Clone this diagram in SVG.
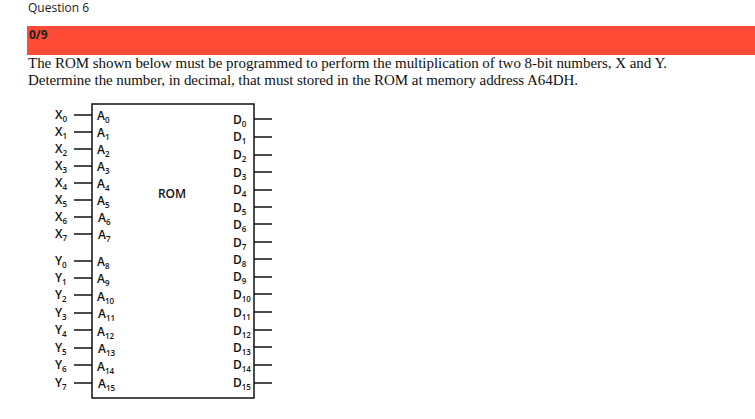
<svg xmlns="http://www.w3.org/2000/svg" width="755" height="419" viewBox="0 0 755 419">
<style>
.h{font-family:"Open Sans","Liberation Sans",sans-serif;font-size:12px;fill:#222}
.q{font-family:"Liberation Serif",serif;font-size:15px;fill:#111}
.l{font-family:"Open Sans","Liberation Sans",sans-serif;font-size:12px;font-weight:600;fill:#111}
.s{font-size:8px}
.w{stroke:#111;stroke-width:1.5}
</style>
<rect width="755" height="419" fill="#fff"/>
<text class="h" x="28" y="12">Question 6</text>
<rect x="27" y="26" width="728" height="29" fill="#ff4a36"/>
<text class="h" x="29" y="39" font-weight="bold" font-size="11">0/9</text>
<text class="q" x="28" y="68" textLength="639">The ROM shown below must be programmed to perform the multiplication of two 8-bit numbers, X and Y.</text>
<text class="q" x="28" y="85" textLength="550">Determine the number, in decimal, that must stored in the ROM at memory address A64DH.</text>
<g id="rom">
<rect x="92" y="104" width="162" height="294" fill="none" stroke="#111" stroke-width="1.5"/>
<text class="l" x="172" y="198" text-anchor="middle" font-size="15" font-weight="bold">ROM</text>
</g>
<g id="connectors" class="w">
<path d="M74 115H92M74 132H92M74 149H92M74 166H92M74 183H92M74 200H92M74 217H92M74 234H92M74 261H92M74 278H92M74 295H92M74 313H92M74 330H92M74 348H92M74 365H92M74 383H92"/>
<path d="M254 119H272M254 137H272M254 155H272M254 172H272M254 190H272M254 207H272M254 224H272M254 242H272M254 259H272M254 277H272M254 294H272M254 312H272M254 330H272M254 347H272M254 365H272M254 383H272"/>
</g>
<g id="inputs" class="l">
<text x="55" y="119">X<tspan class="s" dy="3">0</tspan></text>
<text x="55" y="136">X<tspan class="s" dy="3">1</tspan></text>
<text x="55" y="153">X<tspan class="s" dy="3">2</tspan></text>
<text x="55" y="170">X<tspan class="s" dy="3">3</tspan></text>
<text x="55" y="187">X<tspan class="s" dy="3">4</tspan></text>
<text x="55" y="204">X<tspan class="s" dy="3">5</tspan></text>
<text x="55" y="221">X<tspan class="s" dy="3">6</tspan></text>
<text x="55" y="238">X<tspan class="s" dy="3">7</tspan></text>
<text x="55" y="265">Y<tspan class="s" dy="3">0</tspan></text>
<text x="55" y="282">Y<tspan class="s" dy="3">1</tspan></text>
<text x="55" y="299">Y<tspan class="s" dy="3">2</tspan></text>
<text x="55" y="317">Y<tspan class="s" dy="3">3</tspan></text>
<text x="55" y="334">Y<tspan class="s" dy="3">4</tspan></text>
<text x="55" y="352">Y<tspan class="s" dy="3">5</tspan></text>
<text x="55" y="369">Y<tspan class="s" dy="3">6</tspan></text>
<text x="55" y="387">Y<tspan class="s" dy="3">7</tspan></text>
</g>
<g id="addr" class="l">
<text x="97" y="120">A<tspan class="s" dy="3">0</tspan></text>
<text x="97" y="137">A<tspan class="s" dy="3">1</tspan></text>
<text x="97" y="154">A<tspan class="s" dy="3">2</tspan></text>
<text x="97" y="171">A<tspan class="s" dy="3">3</tspan></text>
<text x="97" y="188">A<tspan class="s" dy="3">4</tspan></text>
<text x="97" y="205">A<tspan class="s" dy="3">5</tspan></text>
<text x="98" y="222">A<tspan class="s" dy="3">6</tspan></text>
<text x="98" y="239">A<tspan class="s" dy="3">7</tspan></text>
<text x="97" y="266">A<tspan class="s" dy="3">8</tspan></text>
<text x="97" y="283">A<tspan class="s" dy="3">9</tspan></text>
<text x="97" y="301">A<tspan class="s" dy="3">10</tspan></text>
<text x="98" y="318">A<tspan class="s" dy="3">11</tspan></text>
<text x="97" y="336">A<tspan class="s" dy="3">12</tspan></text>
<text x="98" y="353">A<tspan class="s" dy="3">13</tspan></text>
<text x="97" y="371">A<tspan class="s" dy="3">14</tspan></text>
<text x="98" y="388">A<tspan class="s" dy="3">15</tspan></text>
</g>
<g id="data" class="l">
<text x="233" y="124">D<tspan class="s" dy="3">0</tspan></text>
<text x="233" y="141">D<tspan class="s" dy="3">1</tspan></text>
<text x="233" y="159">D<tspan class="s" dy="3">2</tspan></text>
<text x="233" y="177">D<tspan class="s" dy="3">3</tspan></text>
<text x="233" y="194">D<tspan class="s" dy="3">4</tspan></text>
<text x="233" y="212">D<tspan class="s" dy="3">5</tspan></text>
<text x="233" y="229">D<tspan class="s" dy="3">6</tspan></text>
<text x="233" y="247">D<tspan class="s" dy="3">7</tspan></text>
<text x="233" y="264">D<tspan class="s" dy="3">8</tspan></text>
<text x="233" y="281">D<tspan class="s" dy="3">9</tspan></text>
<text x="233" y="299">D<tspan class="s" dy="3">10</tspan></text>
<text x="233" y="317">D<tspan class="s" dy="3">11</tspan></text>
<text x="233" y="335">D<tspan class="s" dy="3">12</tspan></text>
<text x="233" y="352">D<tspan class="s" dy="3">13</tspan></text>
<text x="233" y="369">D<tspan class="s" dy="3">14</tspan></text>
<text x="233" y="387">D<tspan class="s" dy="3">15</tspan></text>
</g>
</svg>
